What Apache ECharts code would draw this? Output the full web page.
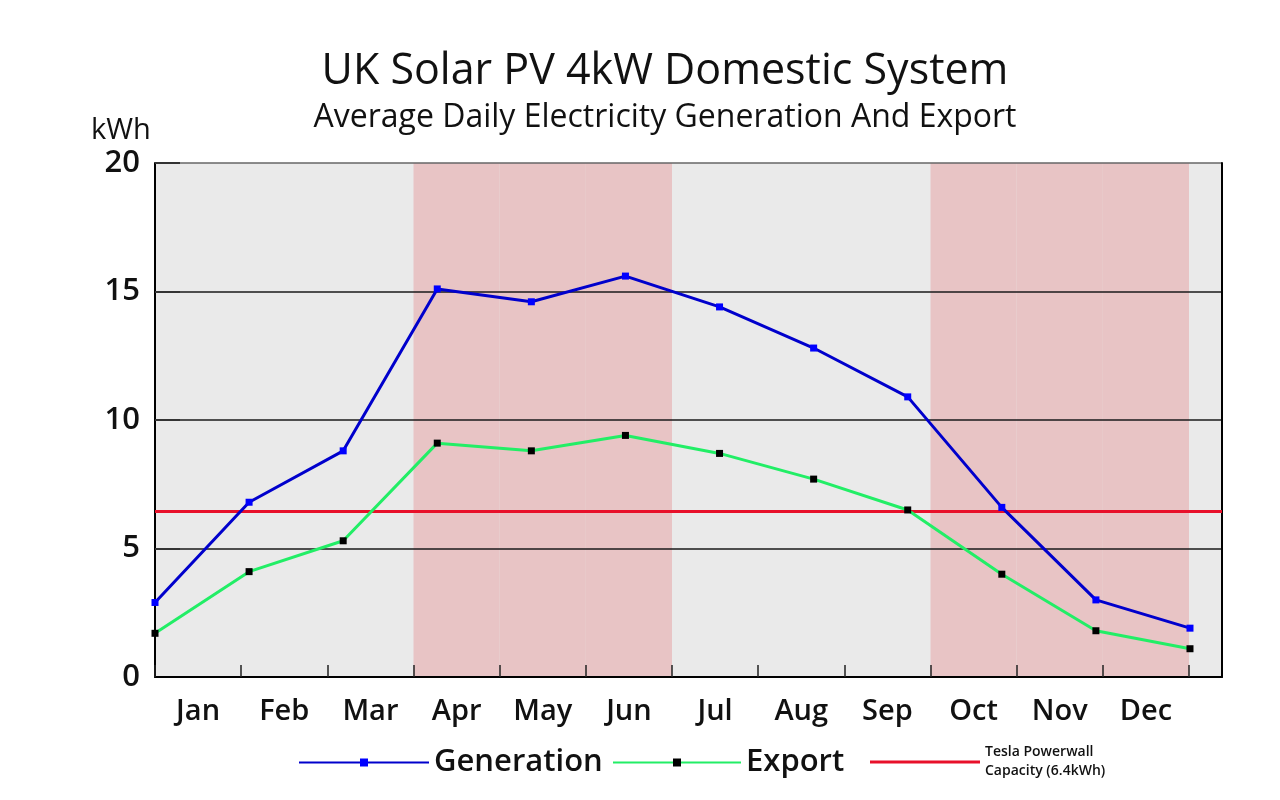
<!DOCTYPE html>
<html>
<head>
<meta charset="utf-8">
<script src="https://cdn.jsdelivr.net/npm/echarts@6/dist/echarts.min.js"></script>
<style>
  html, body { margin: 0; padding: 0; background: #fff; }
  #chart { width: 1280px; height: 800px; }
</style>
</head>
<body>
<div id="chart"></div>
<script>
const months = ['Jan', 'Feb', 'Mar', 'Apr', 'May', 'Jun', 'Jul', 'Aug', 'Sep', 'Oct', 'Nov', 'Dec']
// kWh per day
const generation = [2.9, 6.8, 8.8, 15.1, 14.6, 15.6, 14.4, 12.8, 10.9, 6.6, 3.0, 1.9]
const exported = [1.7, 4.1, 5.3, 9.1, 8.8, 9.4, 8.7, 7.7, 6.5, 4.0, 1.8, 1.1]
const powerwallCapacity = 6.45
const shadedMonths = ['Apr', 'May', 'Jun', 'Oct', 'Nov', 'Dec']
const yTicks = [0, 5, 10, 15, 20]

const font = "'Open Sans', 'Noto Sans', sans-serif"
const yMax = yTicks[yTicks.length - 1]

// pink background bands (full column height)
const bandData = months.map((m) => (shadedMonths.includes(m) ? yMax : null))
const toPoints = (arr) => arr.map((v, i) => [i, v])

const chart = echarts.init(document.getElementById('chart'))
const option = {
  animation: false,
  title: [
    {
      text: 'UK Solar PV 4kW Domestic System',
      left: 660,
      textAlign: 'center',
      top: 45,
      textStyle: { fontFamily: font, fontSize: 43, fontWeight: 'normal', color: '#111' }
    },
    {
      text: 'Average Daily Electricity Generation And Export',
      left: 660,
      textAlign: 'center',
      top: 97,
      textStyle: { fontFamily: font, fontSize: 32, fontWeight: 'normal', color: '#111' }
    },
    {
      text: 'kWh',
      left: 86,
      top: 111,
      textStyle: { fontFamily: font, fontSize: 29, fontWeight: 'normal', color: '#111' }
    }
  ],
  legend: [
    {
      left: 298, top: 747, padding: 0,
      itemWidth: 130, itemHeight: 10,
      data: [{ name: 'Generation', textStyle: { fontFamily: font, fontSize: 31, fontWeight: 600, color: '#111' } }]
    },
    {
      left: 612, top: 747, padding: 0,
      itemWidth: 128, itemHeight: 10,
      data: [{ name: 'Export', textStyle: { fontFamily: font, fontSize: 31, fontWeight: 600, color: '#111' } }]
    },
    {
      left: 870, top: 743, padding: 0,
      itemWidth: 110, itemHeight: 3,
      data: [{
        name: 'Tesla Powerwall\nCapacity (6.4kWh)',
        icon: 'rect',
        itemStyle: { color: '#e8102a' },
        textStyle: { fontFamily: font, fontSize: 14, fontWeight: 600, color: '#111', lineHeight: 19 }
      }]
    }
  ],
  grid: [
    // data grid
    { left: 155, top: 163, width: 1067, height: 514, show: true, backgroundColor: '#eaeaea', borderWidth: 0 },
    // month label grid
    { left: 155, top: 163, width: 1034, height: 514 }
  ],
  xAxis: [
    {
      type: 'value',
      gridIndex: 0,
      min: 0,
      max: 1067 / 94.09,
      axisLine: { show: true, lineStyle: { color: '#000', width: 2 } },
      axisTick: { show: false },
      axisLabel: { show: false },
      splitLine: { show: false },
      z: 4
    },
    {
      type: 'category',
      gridIndex: 1,
      data: months,
      boundaryGap: true,
      axisLine: { show: false },
      axisTick: { show: true, inside: true, length: 12, lineStyle: { color: '#222', width: 1.5 } },
      axisLabel: { fontFamily: font, fontSize: 29, fontWeight: 600, color: '#111', margin: 20 },
      z: 4
    }
  ],
  yAxis: [
    {
      type: 'value',
      gridIndex: 0,
      min: 0,
      max: yMax,
      interval: 5,
      axisLine: { show: true, lineStyle: { color: '#000', width: 2 } },
      axisTick: { show: true, inside: true, length: 25, lineStyle: { color: '#333', width: 2 } },
      axisLabel: { fontFamily: font, fontSize: 31, fontWeight: 600, color: '#111', margin: 15, padding: [12, 0, 0, 0] },
      splitLine: { show: true, lineStyle: { color: ['#000', '#1a1a1a', '#1a1a1a', '#1a1a1a', '#666'], width: 1.5 } },
      z: 3
    },
    {
      type: 'value',
      gridIndex: 0,
      position: 'right',
      min: 0,
      max: yMax,
      interval: 5,
      axisLine: { show: true, lineStyle: { color: '#000', width: 2 } },
      axisTick: { show: false },
      axisLabel: { show: false },
      splitLine: { show: false },
      z: 3
    },
    {
      type: 'value',
      gridIndex: 1,
      min: 0,
      max: yMax,
      show: false
    }
  ],
  series: [
    {
      type: 'bar',
      name: 'bands',
      xAxisIndex: 1,
      yAxisIndex: 2,
      barWidth: '100%',
      barCategoryGap: '0%',
      data: bandData,
      itemStyle: { color: '#e8c4c5' },
      silent: true,
      z: 1
    },
    {
      type: 'line',
      name: 'Tesla Powerwall\nCapacity (6.4kWh)',
      xAxisIndex: 0,
      yAxisIndex: 0,
      data: [],
      symbol: 'none',
      color: '#e8102a',
      lineStyle: { color: '#e8102a', width: 3 },
      markLine: {
        silent: true,
        symbol: 'none',
        label: { show: false },
        lineStyle: { color: '#e8102a', width: 3, type: 'solid' },
        data: [{ yAxis: powerwallCapacity }]
      },
      z: 5
    },
    {
      type: 'line',
      name: 'Export',
      xAxisIndex: 0,
      yAxisIndex: 0,
      data: toPoints(exported),
      symbol: 'rect',
      symbolSize: 7,
      color: '#22ee66',
      lineStyle: { color: '#22ee66', width: 3 },
      itemStyle: { color: '#000' },
      clip: false,
      z: 6
    },
    {
      type: 'line',
      name: 'Generation',
      xAxisIndex: 0,
      yAxisIndex: 0,
      data: toPoints(generation),
      symbol: 'rect',
      symbolSize: 7,
      color: '#0000cc',
      lineStyle: { color: '#0000cc', width: 3 },
      itemStyle: { color: '#0000ff' },
      clip: false,
      z: 7
    }
  ]
}
chart.setOption(option)
</script>
</body>
</html>
